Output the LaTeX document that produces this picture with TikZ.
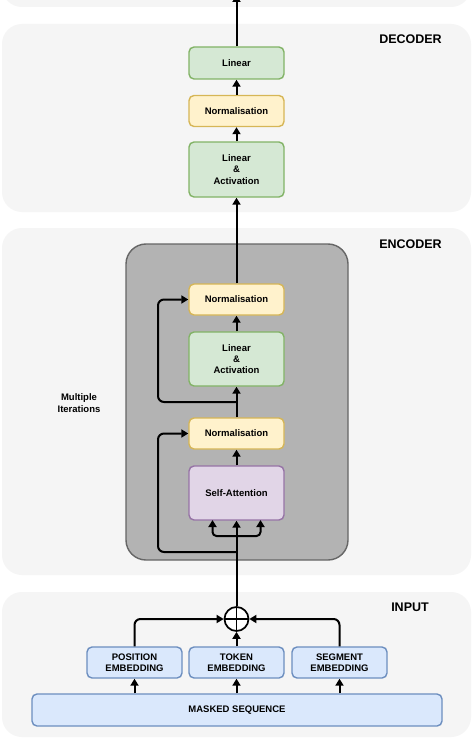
\documentclass[tikz,border=0pt]{standalone}
\usepackage{fontspec}
\setmainfont{Liberation Sans}
\usetikzlibrary{arrows.meta,calc}
\definecolor{panelfill}{HTML}{F5F5F5}
\definecolor{grayfill}{HTML}{B3B3B3}
\definecolor{graydraw}{HTML}{666666}
\definecolor{greenfill}{HTML}{D5E8D4}
\definecolor{greendraw}{HTML}{82B366}
\definecolor{yellowfill}{HTML}{FFF2CC}
\definecolor{yellowdraw}{HTML}{D6B656}
\definecolor{purplefill}{HTML}{E1D5E7}
\definecolor{purpledraw}{HTML}{9673A6}
\definecolor{bluefill}{HTML}{DAE8FC}
\definecolor{bluedraw}{HTML}{6C8EBF}
\tikzset{
  panelbox/.style={fill=panelfill, draw=none, rounded corners=20pt},
  basebox/.style={rectangle, rounded corners=5pt, line width=1.4pt, inner sep=0pt,
    minimum width=95pt, align=center, font=\fontsize{9.5}{11.2}\selectfont\bfseries},
  greenbox/.style={basebox, fill=greenfill, draw=greendraw},
  yellowbox/.style={basebox, fill=yellowfill, draw=yellowdraw, minimum height=31pt},
  purplebox/.style={basebox, fill=purplefill, draw=purpledraw, minimum height=54pt},
  bluebox/.style={basebox, fill=bluefill, draw=bluedraw, minimum height=31pt},
  header/.style={font=\fontsize{12.5}{14}\selectfont\bfseries, inner sep=0pt},
  arr/.style={line width=2pt, -{Triangle[length=7pt,width=8pt]}},
}
\begin{document}
\begin{tikzpicture}[x=1pt,y=-1pt]
\useasboundingbox (0,0) rectangle (474,741);
\clip (0,0) rectangle (474,741);
\fill[white] (0,0) rectangle (474,741);
% panels
\fill[panelbox] (2,-60) rectangle (471,7);
\fill[panelbox] (2,24) rectangle (471,212);
\fill[panelbox] (2,228) rectangle (471,575);
\fill[panelbox] (2,592) rectangle (471,737);
% inner encoder box
\draw[fill=grayfill, draw=graydraw, line width=1.4pt, rounded corners=20pt] (126,244) rectangle (348,560);
% headers
\node[header] (hdec) at (410.5,39.5) {DECODER};
\node[header] (henc) at (410.5,244) {ENCODER};
\node[header] (hinp) at (410,607) {INPUT};
\node[font=\fontsize{9.5}{11.2}\selectfont\bfseries, align=center, inner sep=0pt] (iter) at (79,403) {Multiple\\Iterations};
% decoder
\node[greenbox, minimum height=32pt] (dLin) at (236.5,63) {Linear};
\node[yellowbox] (dNorm) at (236.5,111) {Normalisation};
\node[greenbox, minimum height=55pt] (dLA) at (236.5,169.5) {Linear\\\&\\Activation};
% encoder
\node[yellowbox] (eNorm2) at (236.5,299.5) {Normalisation};
\node[greenbox, minimum height=54pt] (eLA) at (236.5,359) {Linear\\\&\\Activation};
\node[yellowbox] (eNorm1) at (236.5,433.5) {Normalisation};
\node[purplebox] (sa) at (236.5,493) {Self-Attention};
% input
\node[circle, draw=black, fill=white, line width=1.7pt, minimum size=24pt, inner sep=0pt] (plus) at (236.5,619) {};
\draw[line width=1.4pt] (plus.north) -- (plus.south) (plus.west) -- (plus.east);
\node[bluebox] (pos) at (134.5,662.5) {POSITION\\EMBEDDING};
\node[bluebox] (tok) at (236.5,662.5) {TOKEN\\EMBEDDING};
\node[bluebox] (seg) at (339.5,662.5) {SEGMENT\\EMBEDDING};
\node[basebox, fill=bluefill, draw=bluedraw, minimum width=410pt, minimum height=32pt] (mask) at (237,710) {MASKED SEQUENCE};
% coordinates
\coordinate (top) at (236.5,-5);
\coordinate (br) at (236.5,536);
\coordinate (saL) at (212.5,520);
\coordinate (saR) at (260.5,520);
\coordinate (r1) at (236.5,552);
\coordinate (l1) at (158,552);
\coordinate (r2) at (236.5,402);
\coordinate (l2) at (158,402);
% connectors input
\draw[arr] (mask.north -| pos) -- (pos.south);
\draw[arr] (mask.north -| tok) -- (tok.south);
\draw[arr] (mask.north -| seg) -- (seg.south);
\draw[arr, rounded corners=6pt] (pos.north) |- (plus.west);
\draw[arr, rounded corners=6pt] (seg.north) |- (plus.east);
\draw[arr] (tok.north) -- (plus.south);
% encoder
\draw[arr] (plus.north) -- (sa.south);
\draw[arr, rounded corners=4pt] (br) -| (saL);
\draw[arr, rounded corners=4pt] (br) -| (saR);
\draw[arr, rounded corners=6pt] (r1) -- (l1) |- (eNorm1.west);
\draw[arr] (sa.north) -- (eNorm1.south);
\draw[arr] (eNorm1.north) -- (eLA.south);
\draw[arr, rounded corners=6pt] (r2) -- (l2) |- (eNorm2.west);
\draw[arr] (eLA.north) -- (eNorm2.south);
% decoder
\draw[arr] (eNorm2.north) -- (dLA.south);
\draw[arr] (dLA.north) -- (dNorm.south);
\draw[arr] (dNorm.north) -- (dLin.south);
\draw[arr] (dLin.north) -- (top);
\end{tikzpicture}
\end{document}
